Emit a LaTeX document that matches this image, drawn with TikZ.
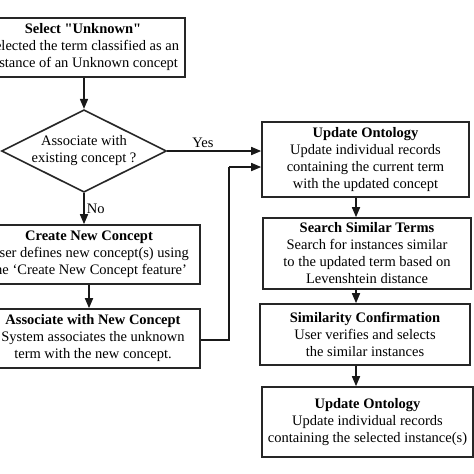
\documentclass[tikz,border=0pt]{standalone}
\usepackage{fontspec}
\setmainfont{Liberation Serif}
\newfontfamily\rawq{Liberation Serif}[Ligatures=TeXOff]
\usetikzlibrary{arrows.meta,shapes.geometric}
\begin{document}
\begin{tikzpicture}[x=1pt,y=-1pt,
  txt/.style={font=\fontsize{14.5}{17}\selectfont},
  box/.style={txt,draw=black!85,line width=1.6pt,align=center,inner sep=0pt,fill=white},
  dec/.style={txt,draw=black!85,line width=1.6pt,diamond,align=center,inner sep=0pt,aspect=2,fill=white},
  conn/.style={line width=1.6pt,draw=black!90,-{Triangle[length=10pt,width=8pt]}},
  lnk/.style={line width=1.6pt,draw=black!90}]
\useasboundingbox (0,0) rectangle (474,474);
\fill[white] (0,0) rectangle (474,474);
\clip (0,0) rectangle (474,474);
% left column
\node[box,minimum width=204pt,minimum height=59pt] (sel) at (83,47.5)
  {{\rawq\bfseries Select "Unknown"}\\Selected the term classified as an\\instance of an Unknown concept};
\node[dec,minimum width=164pt,minimum height=80pt] (dia) at (84,151)
  {Associate with\\existing concept ?};
\node[box,minimum width=222pt,minimum height=59pt] (cre) at (89,254.5)
  {\textbf{Create New Concept}\\User defines new concept(s) using\\the ‘Create New Concept feature’};
\node[box,minimum width=214pt,minimum height=59pt] (asn) at (93,338.5)
  {\textbf{Associate with New Concept}\\System associates the unknown\\term with the new concept.};
% right column
\node[box,minimum width=207pt,minimum height=75pt] (uo1) at (365.5,159.5)
  {\textbf{Update Ontology}\\Update individual records\\containing the current term\\with the updated concept};
\node[box,minimum width=208pt,minimum height=71pt] (sst) at (367,253.5)
  {\textbf{Search Similar Terms}\\Search for instances similar\\to the updated term based on\\Levenshtein distance};
\node[box,minimum width=210pt,minimum height=61pt] (sim) at (365,334.5)
  {\textbf{Similarity Confirmation}\\User verifies and selects\\the similar instances};
\node[box,minimum width=211pt,minimum height=70pt] (uo2) at (367.5,422)
  {\textbf{Update Ontology}\\Update individual records\\containing the selected instance(s)};
% helper coordinates
\coordinate (c1) at (229,340);
\coordinate (c2) at (229,167);
\coordinate (ax) at (356,0);
% connectors
\draw[conn] (sel.south -| dia.north) -- (dia.north);
\draw[conn] (dia.south) -- (dia.south |- cre.north) node[txt,midway,right,inner sep=2pt] {No};
\draw[conn] (cre.south) -- (cre.south |- asn.north);
\draw[conn] (dia.east) -- (dia.east -| uo1.west) node[txt,pos=0.38,above,inner sep=3pt] {Yes};
\draw[lnk] (asn.east |- c1) -- (c1) -- (c2);
\draw[conn] (c2) -- (c2 -| uo1.west);
\draw[conn] (uo1.south -| ax) -- (sst.north -| ax);
\draw[conn] (sst.south -| ax) -- (sim.north -| ax);
\draw[conn] (sim.south -| ax) -- (uo2.north -| ax);
\end{tikzpicture}
\end{document}
